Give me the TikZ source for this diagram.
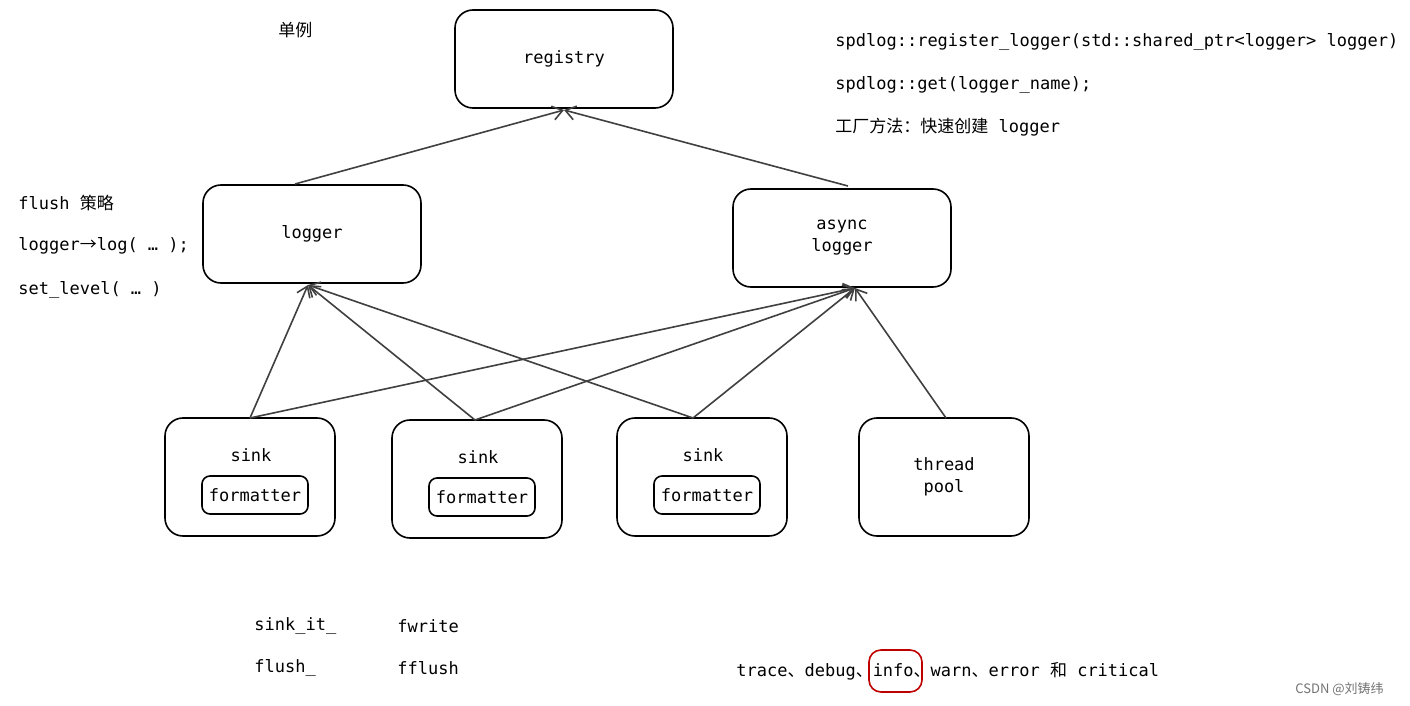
\documentclass[tikz,border=0pt]{standalone}
\usepackage{fontspec}
\setmonofont{DejaVu Sans Mono}
\newfontfamily\cjk{Noto Sans CJK SC}
\usetikzlibrary{arrows.meta}
\begin{document}
\begin{tikzpicture}[x=0.5pt,y=-0.5pt,
  box/.style={draw,line width=0.8pt,rounded corners=9pt,align=center,font=\ttfamily\fontsize{8.5}{11}\selectfont},
  inner/.style={draw,line width=0.8pt,rounded corners=4pt,font=\ttfamily\fontsize{8.5}{11}\selectfont,minimum width=53pt,minimum height=19pt,inner sep=0pt},
  lbl/.style={anchor=west,font=\ttfamily\fontsize{8.5}{11}\selectfont,inner sep=0pt},
  arr/.style={-{Straight Barb[length=5pt,width=7pt]},line width=0.8pt,draw=black!75}]
\useasboundingbox (0,0) rectangle (1410,706);
\fill[white] (0,0) rectangle (1410,706);
\node[box,minimum width=109pt,minimum height=49pt] (reg) at (564,59) {registry};
\node[box,minimum width=109pt,minimum height=49pt] (log) at (312,234) {logger};
\node[box,minimum width=109pt,minimum height=49pt] (alog) at (842,238) {async\\logger};
\node[box,minimum width=85pt,minimum height=59pt] (s1) at (250,477) {};
\node[box,minimum width=85pt,minimum height=59pt] (s2) at (477,479) {};
\node[box,minimum width=85pt,minimum height=59pt] (s3) at (702,477) {};
\node[box,minimum width=85pt,minimum height=59pt] (tp) at (944,477) {thread\\pool};
\node[lbl,anchor=center] (s1t) at (251,455) {sink};
\node[lbl,anchor=center] (s2t) at (478,457) {sink};
\node[lbl,anchor=center] (s3t) at (703,455) {sink};
\node[inner] (f1) at (255,495) {formatter};
\node[inner] (f2) at (482,497) {formatter};
\node[inner] (f3) at (707,495) {formatter};
\coordinate (rin) at (564,110);
\coordinate (lin) at (308,285);
\coordinate (ain) at (855,288);
\coordinate (lo) at (295,184);
\coordinate (ao) at (848,186);
\coordinate (p1) at (250,418);
\coordinate (p2) at (475,420);
\coordinate (p3) at (693,418);
\coordinate (p4) at (946,418);
\draw[arr] (lo) -- (rin);
\draw[arr] (ao) -- (rin);
\foreach \p in {p1,p2,p3}{\draw[arr] (\p) -- (lin); \draw[arr] (\p) -- (ain);}
\draw[arr] (p4) -- (ain);
\node[lbl,font=\cjk\fontsize{8.5}{11}\selectfont] (t0) at (278,30) {单例};
\node[lbl] (t1) at (835,42) {spdlog::register\_logger(std::shared\_ptr<logger> logger)};
\node[lbl] (t2) at (835,85) {spdlog::get(logger\_name);};
\node[lbl] (t3) at (835,127) {{\cjk 工厂方法：快速创建} logger};
\node[lbl] (t4) at (18,203) {flush {\cjk 策略}};
\node[lbl] (t5) at (18,246) {logger{\cjk →}log( … );};
\node[lbl] (t6) at (18,290) {set\_level( … )};
\node[lbl] (t7) at (254,626) {sink\_it\_};
\node[lbl] (t8) at (397,626) {fwrite};
\node[lbl] (t9) at (254,668) {flush\_};
\node[lbl] (t10) at (397,668) {fflush};
\node[lbl] (t11) at (736,671) {trace{\cjk 、}debug{\cjk 、}info{\cjk 、}warn{\cjk 、}error {\cjk 和} critical};
\draw[red!75!black,line width=0.8pt,rounded corners=6pt] (869,650) rectangle (922,692);
\node[lbl,font=\cjk\fontsize{6.5}{8}\selectfont,text=black!55] (wm) at (1295,689) {CSDN @刘铸纬};
\end{tikzpicture}
\end{document}
